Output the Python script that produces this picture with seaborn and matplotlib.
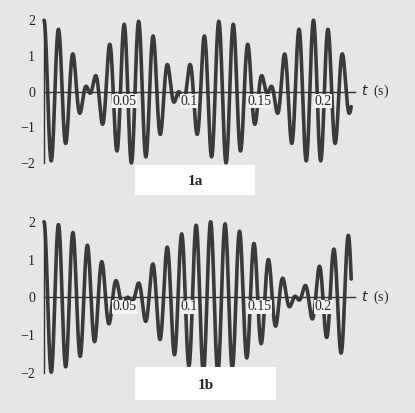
import numpy as np
import pandas as pd
import matplotlib
matplotlib.use('Agg')
import matplotlib.pyplot as plt
import seaborn as sns

# two tones per panel (Hz), read from peak spacing and beat nulls
freqs_a = [100.0, 85.0]
freqs_b = [97.0, 89.0]
t_end = 0.228
xticks = [0.05, 0.1, 0.15, 0.2]
xtick_labels = ["0.05", "0.1", "0.15", "0.2"]
yticks = [-2, -1, 0, 1, 2]
panel_labels = ["1a", "1b"]

t = np.linspace(0, t_end, 3000)
frames = []
for name, fr in zip(panel_labels, [freqs_a, freqs_b]):
    y = sum(np.cos(2 * np.pi * f * t) for f in fr)
    frames.append(pd.DataFrame({"t": t, "y": y, "panel": name}))
df = pd.concat(frames)

sns.set_style("white")
plt.rcParams['font.family'] = ['Liberation Serif', 'DejaVu Serif']

fig = plt.figure(figsize=(4.15, 4.13), dpi=100, facecolor='#e6e6e4')
positions = [[0.106, 0.605, 0.75, 0.346], [0.106, 0.097, 0.75, 0.366]]
box_pos = [[0.325, 0.528, 0.29, 0.073], [0.325, 0.031, 0.34, 0.08]]

for name, pos, bp in zip(panel_labels, positions, box_pos):
    ax = fig.add_axes(pos)
    ax.set_facecolor('none')
    sns.lineplot(data=df[df.panel == name], x="t", y="y", ax=ax,
                 color='#3a3a3a', linewidth=2.6, clip_on=False)
    ax.set_xlim(0, t_end + 0.003)
    ax.set_ylim(-2, 2)
    for s in ['top', 'right']:
        ax.spines[s].set_visible(False)
    ax.spines['bottom'].set_position(('data', 0))
    ax.spines['left'].set_bounds(-2, 2)
    for s in ['left', 'bottom']:
        ax.spines[s].set_color('#333333')
        ax.spines[s].set_linewidth(1.0)
    ax.set_xticks(xticks)
    ax.set_xticklabels([])
    for xv, lab in zip(xticks, xtick_labels):
        ax.text(xv + 0.001, -0.08, lab, ha='left', va='top', fontsize=10,
                color='#222222', zorder=10,
                bbox=dict(facecolor='#f4f4f2', edgecolor='none', pad=0.3))
    ax.set_yticks(yticks)
    ax.set_yticklabels(["\u22122", "\u22121", "0", "1", "2"], fontsize=10, color='#222222')
    ax.tick_params(axis='both', direction='inout', length=6, color='#333333')
    ax.set_xlabel("")
    ax.set_ylabel("")
    ax.text(1.02, 0.5, "$t$  (s)", transform=ax.transAxes, fontsize=10,
            va='center', ha='left', color='#222222')
    bx = fig.add_axes(bp)
    bx.set_facecolor('white')
    bx.set_xticks([])
    bx.set_yticks([])
    for s in bx.spines.values():
        s.set_visible(False)
    bx.text(0.5, 0.45, name, ha='center', va='center', fontsize=11,
            fontweight='bold', transform=bx.transAxes)

fig.savefig("out.png", dpi=100, facecolor=fig.get_facecolor())
